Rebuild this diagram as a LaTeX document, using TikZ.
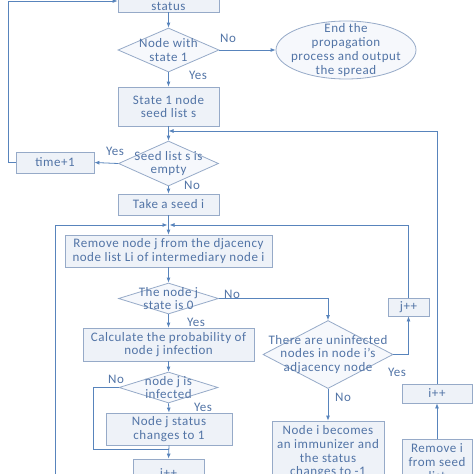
\documentclass[tikz,border=0pt]{standalone}
\usepackage{fontspec}
\setmainfont[LetterSpace=4]{Carlito}
\usetikzlibrary{shapes,arrows.meta}
\definecolor{flowline}{RGB}{88,132,188}
\definecolor{flowtext}{RGB}{82,116,166}
\definecolor{flowedge}{RGB}{150,170,200}
\definecolor{flowfill}{RGB}{238,242,248}
\definecolor{decfill}{RGB}{246,248,252}

\begin{document}
\begin{tikzpicture}[x=1pt,y=-1pt]
    \tikzstyle{every node}=[font=\fontsize{13}{13.7}\selectfont,text=flowtext]
    \tikzstyle{flowbox}=[rectangle,draw=flowedge,fill=flowfill,align=center,inner sep=1pt,line width=0.8pt]
    \tikzstyle{flowdec}=[diamond,draw=flowedge,fill=decfill,inner sep=0pt,line width=0.8pt]
    \tikzstyle{flowend}=[ellipse,draw=flowedge,fill=decfill,inner sep=0pt,line width=0.8pt]
    \tikzstyle{flowtxt}=[align=center,inner sep=0pt]
    \tikzstyle{yesno}=[inner sep=0pt]
    \tikzstyle{flow}=[draw=flowline,line width=0.8pt,-{Latex[length=5pt,width=4pt]}]
    \tikzstyle{flowplain}=[draw=flowline,line width=0.8pt]
    \useasboundingbox (0,0) rectangle (474,474);

    % main column
    \node[flowbox,minimum width=101,minimum height=22] (init) at (168.5,1) {\phantom{x}\\status};
    \node[flowdec,minimum width=101,minimum height=44] (q1) at (168.5,50) {};
    \node[flowtxt] (q1t) at (q1) {Node with\\state 1};
    \node[flowend,minimum width=140,minimum height=58] (stop) at (346,50) {};
    \node[flowtxt] (stopt) at (stop) {End the\\propagation\\process and output\\the spread};
    \node[flowbox,minimum width=101,minimum height=39] (seeds) at (168.5,106.5) {State 1 node\\seed list s};
    \node[flowdec,minimum width=100,minimum height=45] (q2) at (168.5,163.5) {};
    \node[flowtxt] (q2t) at (q2) {Seed list s is\\empty};
    \node[flowbox,minimum width=78,minimum height=21] (time) at (55,162.5) {time+1};
    \node[flowbox,minimum width=101,minimum height=21] (take) at (168.5,204.5) {Take a seed i};
    \node[flowbox,minimum width=207,minimum height=32] (remj) at (168.5,251) {Remove node j from the djacency\\node list Li of intermediary node i};
    \node[flowdec,minimum width=100,minimum height=31] (q3) at (168.5,298.5) {};
    \node[flowtxt] (q3t) at (q3) {The node j\\state is 0};
    \node[flowbox,minimum width=171,minimum height=33] (calc) at (168.5,344.5) {Calculate the probability of\\node j infection};
    \node[flowdec,minimum width=99,minimum height=31] (q5) at (168.5,387.5) {};
    \node[flowtxt] (q5t) at (q5) {node j is\\infected};
    \node[flowbox,minimum width=126,minimum height=32] (setone) at (169,429) {Node j status\\changes to 1};
    \node[flowbox,minimum width=71,minimum height=30] (jnext) at (168.5,474) {j++};

    % right part
    \node[flowdec,minimum width=130,minimum height=68] (q4) at (328,354.5) {};
    \node[flowtxt] (q4t) at (q4) {There are uninfected\\nodes in node i's\\adjacency node};
    \node[flowbox,minimum width=112,minimum height=62] (immune) at (328,452) {Node i becomes\\an immunizer and\\the status\\changes to -1};
    \node[flowbox,minimum width=41,minimum height=18] (jpp) at (408.5,307) {j++};
    \node[flowbox,minimum width=70,minimum height=19] (ipp) at (437,393.5) {i++};
    \node[flowbox,minimum width=70,minimum height=46] (remi) at (437,462) {Remove i\\from seed\\list};

    % yes / no
    \node[yesno] (n1) at (228,38) {No};
    \node[yesno] (y1) at (198,75) {Yes};
    \node[yesno] (y2) at (115,151) {Yes};
    \node[yesno] (n2) at (192,185) {No};
    \node[yesno] (n3) at (232,294) {No};
    \node[yesno] (y3) at (196,322) {Yes};
    \node[yesno] (n5) at (116,379) {No};
    \node[yesno] (y5) at (203,407) {Yes};
    \node[yesno] (y4) at (397,372) {Yes};
    \node[yesno] (n4) at (343,397) {No};

    % junctions
    \coordinate (topl) at (8,1);
    \coordinate (seedin) at (168.5,131);
    \coordinate (remin) at (168.5,225);
    \coordinate (leftl) at (55,225);
    \coordinate (botin) at (168.5,449);
    \coordinate (nol) at (93,449);

    % connectors
    \draw[flow] (time.west) -| (topl) -- (topl -| init.west);
    \draw[flow] (init.south) -- (q1.north);
    \draw[flow] (q1.east) -- (stop.west);
    \draw[flow] (q1.south) -- (seeds.north);
    \draw[flow] (seeds.south) -- (q2.north);
    \draw[flow] (ipp.north) |- (seedin);
    \draw[flow] (q2.west) -- (time.east);
    \draw[flow] (q2.south) -- (take.north);
    \draw[flow] (take.south) -- (remj.north);
    \draw[flow] (jnext.south) -- ++(0,14) -| (leftl) -- ([xshift=-1pt]remin);
    \draw[flow] (jpp.north) |- ([xshift=1pt]remin);
    \draw[flow] (remj.south) -- (q3.north);
    \draw[flow] (q3.east) -| (q4.north);
    \draw[flow] (q3.south) -- (calc.north);
    \draw[flow] (calc.south) -- (q5.north);
    \draw[flow] (q5.south) -- (setone.north);
    \draw[flowplain] (q5.west) -| (nol) -- (botin);
    \draw[flow] (setone.south) -- (jnext.north);
    \draw[flow] (q4.east) -| (jpp.south);
    \draw[flow] (q4.south) -- (immune.north);
    \draw[flow] (remi.north) -- (ipp.south);
\end{tikzpicture}
\end{document}
